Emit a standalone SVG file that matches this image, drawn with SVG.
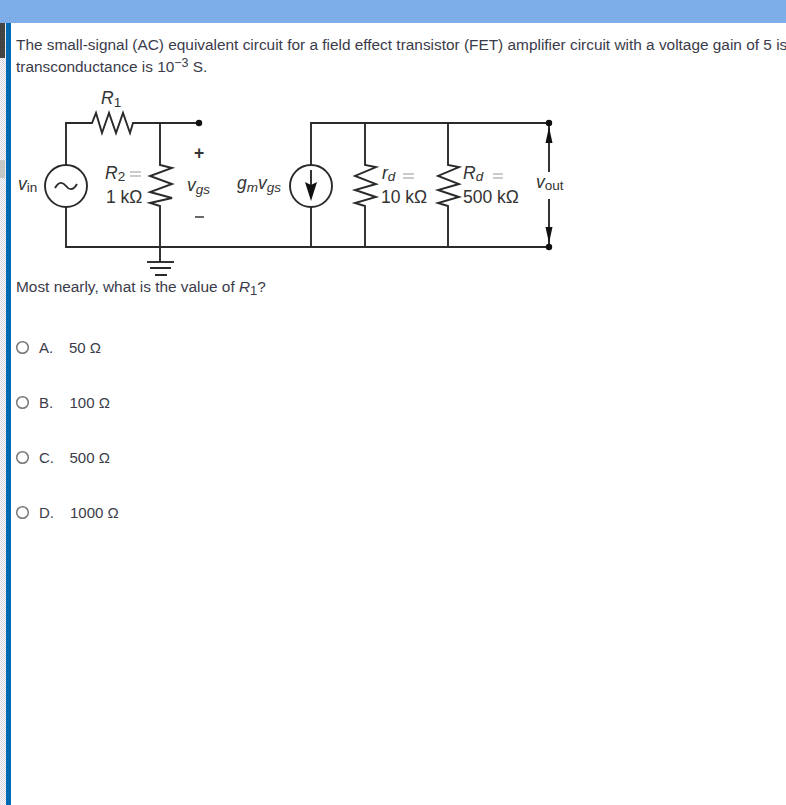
<svg xmlns="http://www.w3.org/2000/svg" width="786" height="805" viewBox="0 0 786 805">
<style>
.t{font-family:"Liberation Sans",Arial,sans-serif;font-size:15.4px;fill:#3b3b4a}
.o{font-family:"Liberation Sans",Arial,sans-serif;font-size:15px;fill:#3b3b4a}
.c{font-family:"Liberation Sans",Arial,sans-serif;font-size:17.5px;fill:#333}
.i{font-style:italic}
.s{font-size:13.500px}
.w{fill:none;stroke:#2a2a2a;stroke-width:1.9;stroke-linejoin:miter}
.g{fill:none;stroke:#bbb;stroke-width:1.6}
.r{fill:#fff;stroke:#777;stroke-width:1.5}
.d{fill:#111}
</style>
<defs>
<pattern id="dz" width="2" height="2" patternUnits="userSpaceOnUse"><rect width="2" height="2" fill="#fff"/><rect width="1" height="1" fill="#d5d8e4"/><rect x="1" y="1" width="1" height="1" fill="#d5d8e4"/></pattern>
<pattern id="dt" width="2" height="2" patternUnits="userSpaceOnUse"><rect width="2" height="2" fill="#7cace8"/><rect width="1" height="1" fill="#85b2ea"/></pattern>
</defs>
<rect width="786" height="805" fill="#fff"/>
<g id="chrome">
<rect x="0" y="0" width="6" height="805" fill="url(#dz)"/>
<rect x="6" y="23" width="5" height="782" fill="#0069b4"/>
<rect x="0" y="23" width="5" height="35" fill="#444"/>
<rect x="0" y="160" width="5" height="18" fill="#c4c8c4"/>
<rect x="0" y="0" width="786" height="23" fill="url(#dt)"/>
</g>
<g id="question">
<text class="t" x="16" y="50">The small-signal (AC) equivalent circuit for a field effect transistor (FET) amplifier circuit with a voltage gain of 5 is</text>
<text class="t" x="16" y="72">transconductance is 10<tspan dy="-5" font-size="12.500">−3</tspan><tspan dy="5"> S.</tspan></text>
<text class="t" x="16" y="292">Most nearly, what is the value of <tspan class="i">R</tspan><tspan dy="3" font-size="13">1</tspan><tspan dy="-3">?</tspan></text>
</g>
<g id="connectors">
<path class="w" d="M66,165 V123 H92 L96,113 L102,133 L109,113 L116,133 L123,113 L130,133 L133,123 H199"/>
<path class="w" d="M160,123 V165 L172,168 L150,176 L172,184 L150,192 L172,198 L150,203 L160,206 V262"/>
<path class="w" d="M66,207 V247 H549"/>
<path class="w" d="M147,262 H174"/>
<path class="w" d="M150,268 H171 M155,275 H167"/>
<path class="w" d="M311,165 V123 H549 M311,207 V247"/>
<path class="w" d="M365,123 V165 L376,167 L355,176 L376,184 L355,190 L376,197 L355,203 L365,206 V247"/>
<path class="w" d="M448,123 V165 L459,167 L438,176 L459,184 L438,190 L459,197 L438,203 L448,206 V247"/>
<path class="w" d="M549,123 V172 M549,199 V247"/>
<path class="d" d="M549,127 L552.500,143 H545.500Z M549,243 L552.500,227 H545.500Z"/>
<circle class="d" cx="199" cy="123" r="3.2"/>
<circle class="d" cx="549" cy="123" r="3.2"/>
<circle class="d" cx="549" cy="247" r="3.2"/>
</g>
<g id="vin">
<circle class="w" cx="66" cy="186" r="21"/>
<path class="w" d="M55,188 C59,181 63,182 66,186 C69,190 73,191 77,184"/>
<text class="c i" x="18" y="190">v<tspan class="s" font-style="normal" dy="2">in</tspan></text>
</g>
<g id="r1"><text class="c i" x="101" y="104">R<tspan class="s" font-style="normal" dy="3">1</tspan></text></g>
<g id="r2">
<text class="c i" x="105" y="179">R<tspan class="s" font-style="normal" dy="2">2</tspan></text>
<path class="g" d="M130,172 H141 M130,176 H141"/>
<text class="c" x="106" y="203">1 kΩ</text>
</g>
<g id="vgs">
<text class="c" x="199" y="159" text-anchor="middle" font-weight="bold" font-size="13">+</text>
<text class="c i" x="187" y="191">v<tspan class="s" dy="3">gs</tspan></text>
<path d="M195,217 H204" stroke="#444" stroke-width="1.6"/>
</g>
<g id="gm">
<text class="c i" x="237" y="189">g<tspan class="s" dy="3">m</tspan><tspan dy="-3">v</tspan><tspan class="s" dy="3">gs</tspan></text>
<circle class="w" cx="311" cy="186" r="21"/>
<path class="w" d="M311,170 V195"/>
<path class="d" d="M311,201 L305,182 L311,185 L317,182Z"/>
</g>
<g id="rd-small">
<text class="c i" x="382" y="179">r<tspan class="s" dy="2">d</tspan></text>
<path class="g" d="M403,174 H414 M403,178 H414"/>
<text class="c" x="381" y="203">10 kΩ</text>
</g>
<g id="rd-large">
<text class="c i" x="463" y="179">R<tspan class="s" dy="2">d</tspan></text>
<path class="g" d="M493,174 H503 M493,178 H503"/>
<text class="c" x="463" y="203">500 kΩ</text>
</g>
<g id="vout"><text class="c i" x="536" y="188" font-size="15">v<tspan class="s" font-style="normal" dy="2">out</tspan></text></g>
<g id="options">
<circle class="r" cx="22.500" cy="347.500" r="5.800"/><text class="o" x="39" y="353">A.</text><text class="o" x="69" y="353">50 Ω</text>
<circle class="r" cx="22.500" cy="402.500" r="5.800"/><text class="o" x="39" y="408">B.</text><text class="o" x="69.500" y="408">100 Ω</text>
<circle class="r" cx="22.500" cy="457.500" r="5.800"/><text class="o" x="39" y="463">C.</text><text class="o" x="69.500" y="463">500 Ω</text>
<circle class="r" cx="22.500" cy="512.500" r="5.800"/><text class="o" x="39" y="518">D.</text><text class="o" x="70" y="518">1000 Ω</text>
</g>
</svg>
